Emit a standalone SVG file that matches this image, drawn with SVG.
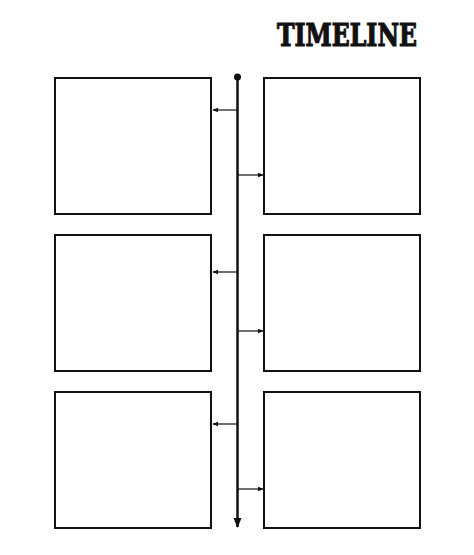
<svg xmlns="http://www.w3.org/2000/svg" width="474" height="555" viewBox="0 0 474 555">
<defs>
<style>
.box{fill:#fff;stroke:#111;stroke-width:2}
.br{stroke:#111;stroke-width:1.2;fill:none}
.title{font-family:"DejaVu Serif",serif;font-weight:bold;font-size:32px;fill:#111;stroke:#111;stroke-width:1.2}
</style>
<marker id="ah" viewBox="0 0 10 10" refX="9" refY="5" markerWidth="6" markerHeight="6" markerUnits="userSpaceOnUse" orient="auto"><path d="M0,1 L10,5 L0,9 z" fill="#111"/></marker>
<marker id="ahd" viewBox="0 0 10 10" refX="9" refY="5" markerWidth="10" markerHeight="10" markerUnits="userSpaceOnUse" orient="auto"><path d="M0,1 L10,5 L0,9 z" fill="#111"/></marker>
</defs>
<rect width="474" height="555" fill="#fff"/>
<text class="title" x="277" y="46" textLength="140" lengthAdjust="spacingAndGlyphs">TIMELINE</text>
<g id="box-l1"><rect class="box" x="55" y="78" width="156" height="136"/></g>
<g id="box-r1"><rect class="box" x="264" y="78" width="156" height="136"/></g>
<g id="box-l2"><rect class="box" x="55" y="235" width="156" height="136"/></g>
<g id="box-r2"><rect class="box" x="264" y="235" width="156" height="136"/></g>
<g id="box-l3"><rect class="box" x="55" y="392" width="156" height="136"/></g>
<g id="box-r3"><rect class="box" x="264" y="392" width="156" height="136"/></g>
<g id="connectors">
<circle cx="237.5" cy="77" r="3.5" fill="#111"/>
<line x1="237.5" y1="77" x2="237.5" y2="527" stroke="#111" stroke-width="2.5" marker-end="url(#ahd)"/>
<line class="br" x1="237.5" y1="110" x2="213" y2="110" marker-end="url(#ah)"/>
<line class="br" x1="237.5" y1="272" x2="213" y2="272" marker-end="url(#ah)"/>
<line class="br" x1="237.5" y1="424" x2="213" y2="424" marker-end="url(#ah)"/>
<line class="br" x1="237.5" y1="175" x2="263" y2="175" marker-end="url(#ah)"/>
<line class="br" x1="237.5" y1="331" x2="263" y2="331" marker-end="url(#ah)"/>
<line class="br" x1="237.5" y1="489" x2="263" y2="489" marker-end="url(#ah)"/>
</g>
</svg>
